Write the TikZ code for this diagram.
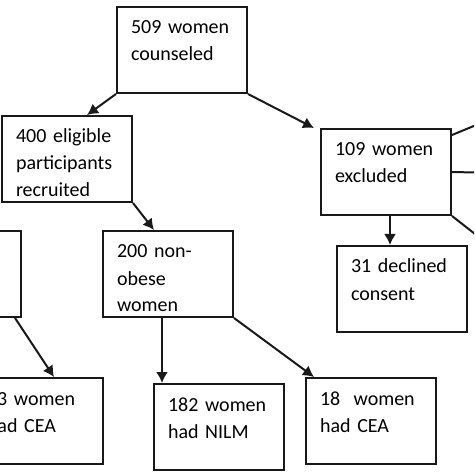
\documentclass[tikz,border=0pt]{standalone}
\usepackage{fontspec}
\setmainfont{Carlito}
\usetikzlibrary{arrows.meta}

\begin{document}
\begin{tikzpicture}[x=0.5pt, y=-0.5pt, line width=1pt, draw=black!90,
    >={Latex[length=5.5pt,width=6pt]},
    stage/.style={draw, anchor=north west, align=left,
      text width=51pt, inner xsep=7pt, inner ysep=0pt,
      text height=13.5pt, text depth=29.5pt,
      font=\fontsize{10}{13.5}\selectfont}]
        \useasboundingbox (0, 0) rectangle (474, 474);
        \clip (0, 0) rectangle (474, 474);

        \node[stage] (couns) at (116, 6) {509 women\\counseled};
        \node[stage] (elig) at (1, 115) {400 eligible\\participants\\recruited};
        \node[stage] (excl) at (320, 128) {109 women\\excluded};
        \node[stage] (decl) at (336, 245) {31 declined\\consent};
        \draw[->] (couns.south west) to ([xshift=10pt]elig.north);
        \draw[->] (couns.south east) to ([xshift=-3pt]excl.north west);
        \draw[->] ([xshift=2pt]excl.south) to ([xshift=2pt]excl.south |- decl.north);

        % lines leaving the crop on the right
        \coordinate (r1) at (498, 116);
        \coordinate (r2) at (498, 173);
        \coordinate (r3) at (498, 252);
        \draw ([yshift=-3.5pt]excl.north east) to (r1);
        \draw (excl.east) to (r2);
        \draw (excl.south east) to (r3);

        \node[stage] (ob) at (-110, 230) {};
        \node[stage] (nonob) at (102, 230) {200 non-\\obese\\women};
        \draw[->] (elig.south east) to ([xshift=-7pt]nonob.north);

        \node[stage] (obcea) at (-28, 377) {13 women\\had CEA};
        \node[stage] (nilm) at (153, 383) {182 women\\had NILM};
        \node[stage] (cea) at (305, 377) {18~ women\\had CEA};
        \draw[->] ([xshift=-3.5pt]ob.south east) to ([xshift=8pt]obcea.north);
        \draw[->] ([xshift=-3pt]nonob.south) to ([xshift=-3pt]nonob.south |- nilm.north);
        \draw[->] (nonob.south east) to ([xshift=4.5pt]cea.north west);
      \end{tikzpicture}
\end{document}
